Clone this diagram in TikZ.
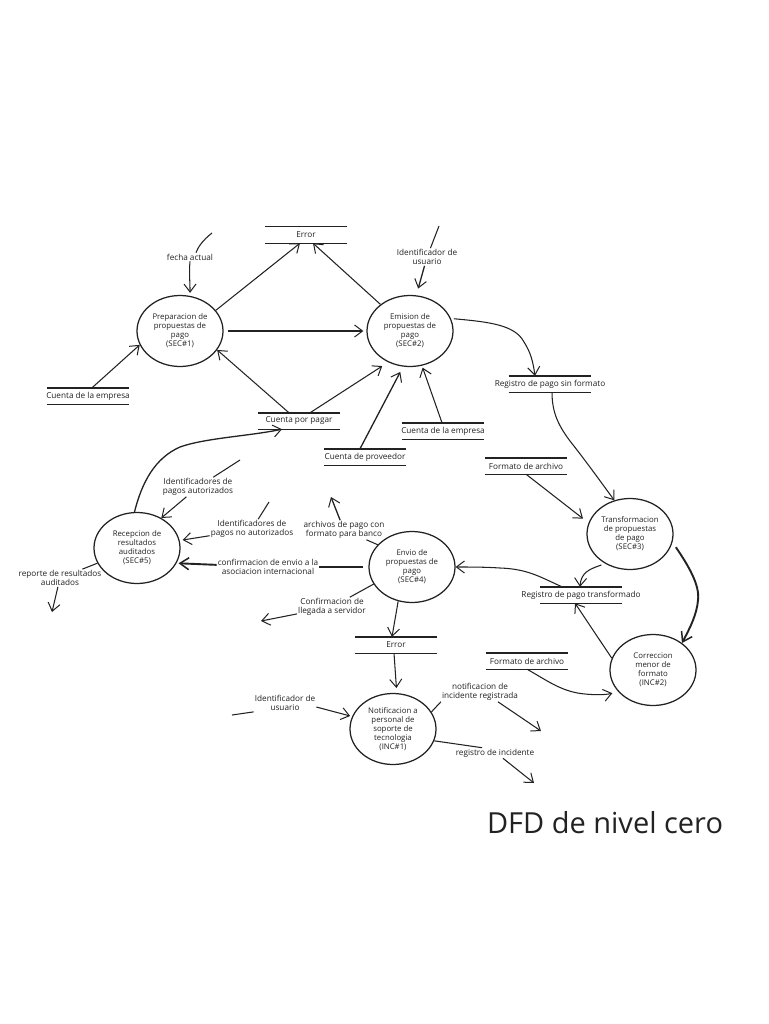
\documentclass[tikz,border=0pt]{standalone}
\usepackage{fontspec}
\setmainfont{Open Sans}
\usetikzlibrary{shapes.geometric,arrows.meta,calc}
\definecolor{ink}{HTML}{222222}
\newcommand{\ovr}[1]{\makebox[0pt]{#1}}
\tikzset{
  txt/.style={font=\fontsize{8.2}{9}\selectfont,text=ink},
  proc/.style={draw=ink,line width=1.25pt,ellipse,minimum width=86pt,minimum height=71pt,inner sep=0pt,align=center,font=\fontsize{7.8}{9}\selectfont,text=ink},
  storeline/.style={draw=ink,line width=1.4pt},
  store/.style={minimum width=82pt,minimum height=16pt,inner sep=0pt,txt,
    append after command={(\tikzlastnode.north west) edge[storeline] (\tikzlastnode.north east)
      (\tikzlastnode.south west) edge[storeline] (\tikzlastnode.south east)}},
  lbl/.style={inner sep=1pt,align=center,txt},
  flow/.style={draw=ink,line width=1.05pt},
  arr/.style={flow,-{Straight Barb[length=8pt,width=12pt,line width=1pt]}},
  heavy/.style={draw=ink,line width=1.9pt},
  heavyarr/.style={heavy,-{Straight Barb[length=9pt,width=12pt,line width=1.5pt]}}
}
\begin{document}
\begin{tikzpicture}[x=1pt,y=-1pt]
\useasboundingbox[fill=white] (0,0) rectangle (768,1024);
% processes
\node[proc] (p1) at (180,331) {Preparacion de\\propuestas de\\pago\\(SEC\#1)};
\node[proc] (p2) at (410,331) {Emision de\\propuestas de\\pago\\(SEC\#2)};
\node[proc] (p3) at (630,534) {Transformacion\\de propuestas\\de pago\\(SEC\#3)};
\node[proc] (p4) at (412,567) {Envio de\\propuestas de\\pago\\(SEC\#4)};
\node[proc] (p5) at (137,548) {Recepcion de\\resultados\\auditados\\(SEC\#5)};
\node[proc] (i1) at (393,729) {Notificacion a\\personal de\\soporte de\\tecnologia\\(INC\#1)};
\node[proc] (i2) at (653,670) {Correccion\\menor de\\formato\\(INC\#2)};
% stores
\node[store] (err1) at (306,235) {\ovr{Error}};
\node[store] (ce1) at (88,396) {\ovr{Cuenta de la empresa}};
\node[store] (cp) at (299,421) {\ovr{Cuenta por pagar}};
\node[store] (prov) at (365,457) {\ovr{Cuenta de proveedor}};
\node[store] (ce2) at (443,431) {\ovr{Cuenta de la empresa}};
\node[store] (rsf) at (550,384) {\ovr{Registro de pago sin formato}};
\node[store] (fa1) at (526,466) {\ovr{Formato de archivo}};
\node[store] (rt) at (581,595) {\ovr{Registro de pago transformado}};
\node[store] (fa2) at (527,661) {\ovr{Formato de archivo}};
\node[store] (err2) at (396,645) {\ovr{Error}};
% labels on flows
\node[lbl] (lfa) at (190,257) {fecha actual};
\node[lbl] (lid) at (427,257) {Identificador de\\usuario};
\node[lbl] (lau) at (198,487) {Identificadores de\\pagos autorizados};
\node[lbl] (lna) at (252,529) {Identificadores de\\pagos no autorizados};
\node[lbl] (lce) at (268,567) {confirmacion de envio a la\\asociacion internacional};
\node[lbl] (lar) at (344,530) {archivos de pago con\\formato para banco};
\node[lbl] (lll) at (332,607) {Confirmacion de\\llegada a servidor};
\node[lbl] (lre) at (60,578) {reporte de resultados\\auditados};
\node[lbl] (liu) at (285,703) {Identificador de\\usuario};
\node[lbl] (lni) at (480,692) {notificacion de\\incidente registrada};
\node[lbl] (lri) at (495,753) {registro de incidente};
% free ends
\coordinate (f1) at (212,233);
\coordinate (f2) at (439,226);
\coordinate (f3) at (240,460);
\coordinate (f4) at (269,502);
\coordinate (f5) at (232,715);
\coordinate (t1) at (331,497);
\coordinate (t2) at (261,621);
\coordinate (t3) at (52,612);
\coordinate (t4) at (541,731);
\coordinate (t5) at (534,783);
% connectors
\draw[flow] (f1) .. controls (203,240) and (198,247) .. ([xshift=6]lfa.north);
\draw[arr,shorten >=3pt] (lfa.south) .. controls (189,272) and (190,282) .. (p1.74);
\draw[arr] (p1.30) -- ([xshift=-6]err1.south);
\draw[arr] (p2.138) -- ([xshift=7]err1.south);
\draw[arr,shorten <=4pt,shorten >=3pt] (p1.east) -- (p2.west);
\draw[arr] ([xshift=4]ce1.north) -- (p1.199);
\draw[arr] ([xshift=-10]cp.north) -- (p1.-27);
\draw[arr,shorten >=7pt] ([xshift=11]cp.north) -- (p2.235);
\draw[arr,line width=1.3pt,shorten >=6pt] ([xshift=-5]prov.north) -- (p2.259);
\draw[arr,shorten >=2pt] ([xshift=-1]ce2.north) -- (p2.289);
\draw[flow] (f2) -- (lid);
\draw[arr,line width=1.3pt,shorten >=7pt] (lid) -- (p2.80);
\draw[arr,shorten <=3pt] (p2.17) .. controls (490,322) and (515,325) .. (524,342) .. controls (531,353) and (533,362) .. ([xshift=-15]rsf.north);
\draw[arr] ([xshift=2]rsf.south) .. controls (552,412) and (558,425) .. (570,441) .. controls (585,460) and (598,478) .. (p3.115);
\draw[arr,shorten >=7pt] (fa1.south) -- (p3.165);
\draw[arr,shorten <=4pt] (p3.230) .. controls (590,569) and (581,572) .. ([xshift=-1]rt.north);
\draw[heavyarr,shorten <=6pt] (p3.-11) .. controls (688,565) and (700,585) .. (698,600) .. controls (697,614) and (690,628) .. (i2.43);
\draw[arr] (i2.164) -- ([xshift=-6]rt.south);
\draw[arr,shorten >=6pt] (fa2.south) .. controls (548,681) and (562,692) .. (585,694) .. controls (595,695) and (605,695) .. (i2.212);
\draw[arr] ([xshift=-19]rt.north) .. controls (540,577) and (528,569) .. (500,568) .. controls (485,567) and (470,567) .. (p4.east);
\draw[arr] (p4.248) -- ([xshift=-4]err2.north);
\draw[arr,shorten >=5pt] ([xshift=-2]err2.south) -- (i1.84);
\draw[flow] (f3) -- (lau);
\draw[arr] (lau) -- (p5.51);
\draw[flow] (f4) -- (lna);
\draw[arr,shorten >=3pt] (lna) -- (p5.10);
\draw[heavy,shorten <=5pt] (p4.west) -- (lce);
\draw[heavyarr,shorten >=2pt] (lce) -- (p5.-21);
\draw[arr,line width=1.3pt] (p5.94) .. controls (142,482) and (155,458) .. (180,447) .. controls (205,438) and (250,436) .. ([xshift=-17]cp.south);
\draw[flow] (p5.201) -- (lre);
\draw[arr] (lre) -- (t3);
\draw[flow] (p4.147) -- (lar);
\draw[arr,line width=1.3pt] (lar) -- (t1);
\draw[flow] (p4.204) -- (lll);
\draw[arr] (lll) -- (t2);
\draw[flow] (f5) -- (liu.south west);
\draw[arr,shorten >=2pt] ([yshift=-4]liu.east) -- (i1.163);
\draw[flow] (i1.24) -- (lni.south west);
\draw[arr] ([xshift=18]lni.south) -- (t4);
\draw[flow] (i1.-16) -- ([xshift=-13]lri.north);
\draw[arr] ([xshift=8]lri.south) -- (t5);
% title
\node[inner sep=0pt,font=\fontsize{29}{32}\selectfont,text=ink] (title) at (605,823) {DFD de nivel cero};
\end{tikzpicture}
\end{document}
